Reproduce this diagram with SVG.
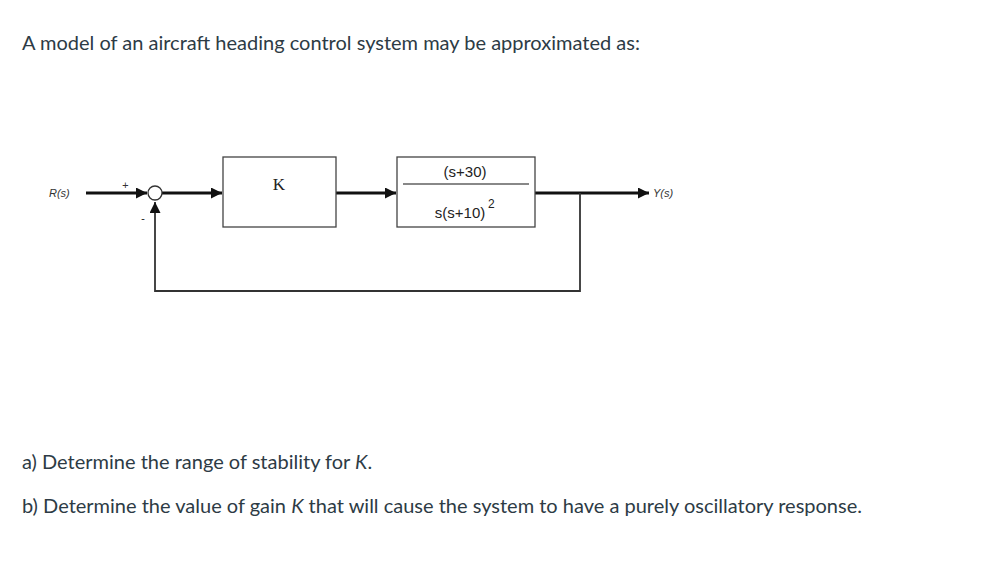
<svg xmlns="http://www.w3.org/2000/svg" width="999" height="582" viewBox="0 0 999 582">
<style>
.t{font-family:Lato,"Liberation Sans",sans-serif;font-size:20px;fill:#2d3b45}
.s{font-family:"Liberation Sans",sans-serif;font-size:11px;font-style:italic;fill:#333}
.b{fill:#fff;stroke:#444;stroke-width:1.3}
.w{stroke:#111;stroke-width:3;fill:none}
.n{stroke:#333;stroke-width:1.8;fill:none}
</style>
<defs><marker id="h" viewBox="0 0 10 10" refX="10" refY="5" markerWidth="11" markerHeight="11" orient="auto" markerUnits="userSpaceOnUse"><path d="M0,0 L10,5 L0,10z" fill="#111"/></marker></defs>
<rect width="999" height="582" fill="#fff"/>
<text class="t" x="22" y="50">A model of an aircraft heading control system may be approximated as:</text>
<text class="t" x="22" y="469">a) Determine the range of stability for <tspan font-style="italic">K</tspan>.</text>
<text class="t" x="22" y="513">b) Determine the value of gain <tspan font-style="italic">K</tspan> that will cause the system to have a purely oscillatory response.</text>
<g id="connectors">
<line class="w" x1="86" y1="193" x2="147" y2="193" marker-end="url(#h)"/>
<line class="w" x1="162" y1="193" x2="222" y2="193" marker-end="url(#h)"/>
<line class="w" x1="336" y1="193" x2="396" y2="193" marker-end="url(#h)"/>
<line class="w" x1="535" y1="193" x2="649" y2="193" marker-end="url(#h)"/>
<polyline class="n" points="580,193 580,291 155,291 155,202" marker-end="url(#h)"/>
</g>
<g id="sum"><circle cx="155" cy="193" r="7" fill="#fff" stroke="#333" stroke-width="1.3"/>
<text class="s" x="122" y="189" font-style="normal">+</text><text class="s" x="141" y="222" font-style="normal">-</text></g>
<g id="in"><text class="s" x="49" y="197">R(s)</text></g>
<g id="out"><text class="s" x="653" y="197">Y(s)</text></g>
<g id="K"><rect class="b" x="223" y="157" width="113" height="70"/>
<text x="279" y="190" text-anchor="middle" font-family="Liberation Serif,serif" font-size="17" fill="#222">K</text></g>
<g id="G"><rect class="b" x="397" y="157" width="138" height="70"/>
<line x1="403" y1="184" x2="529" y2="184" stroke="#888" stroke-width="2"/>
<text x="465" y="177" text-anchor="middle" font-family="Liberation Sans,sans-serif" font-size="15" fill="#222">(s+30)</text>
<text x="460" y="218" text-anchor="middle" font-family="Liberation Sans,sans-serif" font-size="15" fill="#222">s(s+10)</text>
<text x="488" y="208" font-family="Liberation Sans,sans-serif" font-size="12" fill="#222">2</text></g>
</svg>
